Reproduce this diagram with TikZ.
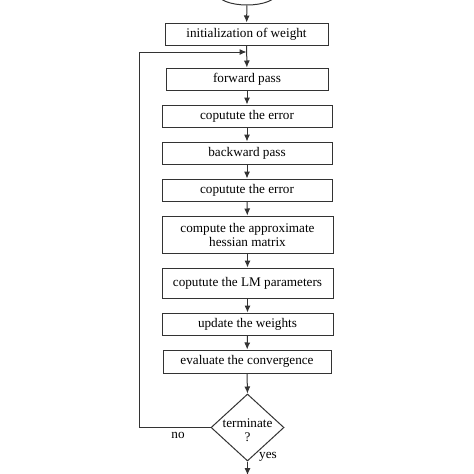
\documentclass[tikz,border=0pt]{standalone}
\usepackage{fontspec}
\setmainfont{Liberation Serif}
\usetikzlibrary{shapes.geometric,arrows.meta}
\begin{document}
\begin{tikzpicture}[x=1pt,y=-1pt,
  line/.style={draw=black!80,line width=1pt},
  arr/.style={line,-{Latex[length=7pt,width=6pt]}},
  proc/.style={line,rectangle,minimum height=22pt,inner sep=0pt,align=center,font=\fontsize{13.2}{14}\selectfont},
  lbl/.style={inner sep=0pt,font=\fontsize{13.2}{14}\selectfont}]
\useasboundingbox[fill=white] (0,0) rectangle (474,474);
\node[line,ellipse,minimum width=58pt,minimum height=22pt,inner sep=0pt] (start) at (247,-6) {};
\node[proc,minimum width=163pt] (init) at (246.5,34) {initialization of weight};
\node[proc,minimum width=162pt] (fwd) at (247,79) {forward pass};
\node[proc,minimum width=170pt] (err1) at (247,116) {coputute the error};
\node[proc,minimum width=170pt] (back) at (247,153) {backward pass};
\node[proc,minimum width=170pt] (err2) at (247,190) {coputute the error};
\node[proc,minimum width=171pt,minimum height=37pt] (hess) at (247.5,234.5) {compute the approximate\\hessian matrix};
\node[proc,minimum width=171pt,minimum height=30pt] (lm) at (247.5,283) {coputute the LM parameters};
\node[proc,minimum width=171pt] (upd) at (247.5,324) {update the weights};
\node[proc,minimum width=168pt,minimum height=23pt] (eval) at (247,361.5) {evaluate the convergence};
\node[line,diamond,minimum width=73pt,minimum height=67pt,inner sep=0pt] (dec) at (247.5,427.5) {};
\node[lbl,align=center] (dectext) at (247.5,430) {terminate\\?};
\node[lbl] (no) at (178,435) {no};
\node[lbl] (yes) at (268,457) {yes};
\coordinate (loopin) at (247,52);
\coordinate (end) at (247.5,475);
\draw[arr] (start) -- (init);
\draw[arr] (init) -- (fwd);
\draw[arr] (fwd) -- (err1);
\draw[arr] (err1) -- (back);
\draw[arr] (back) -- (err2);
\draw[arr] (err2) -- (hess);
\draw[arr] (hess.south) -- (lm.north);
\draw[arr] (lm) -- (upd);
\draw[arr] (upd) -- (eval);
\draw[arr] (eval.south) -- (dec.north);
\draw[arr] (dec.west) -- (139,427.5) -- (139,52) -- ([xshift=-0.5pt]loopin);
\draw[arr] (dec.south) -- (end);
\end{tikzpicture}
\end{document}
